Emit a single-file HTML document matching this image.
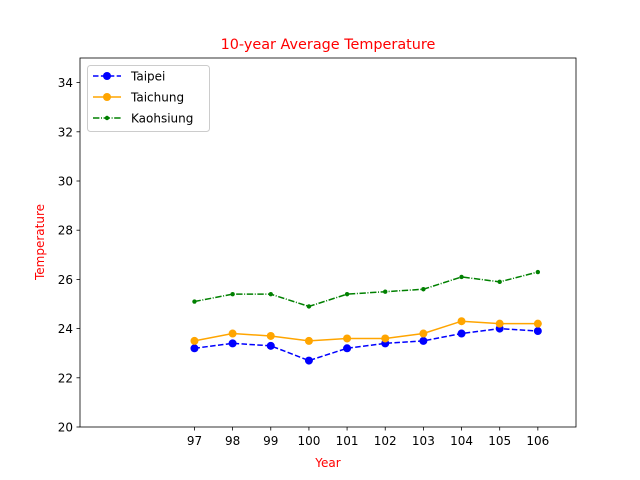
<!DOCTYPE html>
<html><head><meta charset="utf-8"><style>
body{margin:0;background:#fff;}
svg{display:block;font-family:"DejaVu Sans","Liberation Sans",sans-serif;}
</style></head><body>
<svg id="chart" width="640" height="480">
<rect x="0" y="0" width="640" height="480" fill="#fff"/>
<text x="328" y="49" text-anchor="middle" font-size="14.4" fill="red">10-year Average Temperature</text>
<text x="328" y="467" text-anchor="middle" font-size="12" fill="red">Year</text>
<text transform="translate(44,242) rotate(-90)" text-anchor="middle" font-size="12" fill="red">Temperature</text>
<g id="plot"></g>
</svg>
<script>
const years = [97,98,99,100,101,102,103,104,105,106];
const taipei = [23.2,23.4,23.3,22.7,23.2,23.4,23.5,23.8,24.0,23.9];
const taichung = [23.5,23.8,23.7,23.5,23.6,23.6,23.8,24.3,24.2,24.2];
const kaohsiung = [25.1,25.4,25.4,24.9,25.4,25.5,25.6,26.1,25.9,26.3];
const yTicks = [20,22,24,26,28,30,32,34];
const seriesNames = ["Taipei","Taichung","Kaohsiung"];

const L=80,R=576,T=58,B=427;
const xMin=94,xMax=107,yMin=20,yMax=35;
const sx=v=>L+(v-xMin)/(xMax-xMin)*(R-L);
const sy=v=>B-(v-yMin)/(yMax-yMin)*(B-T);
const NS="http://www.w3.org/2000/svg";
const g=document.getElementById('plot');
function mk(tag,attrs,parent){const e=document.createElementNS(NS,tag);for(const k in attrs)e.setAttribute(k,attrs[k]);(parent||g).appendChild(e);return e;}

yTicks.forEach(t=>{
  const y=sy(t);
  const tk=mk('line',{x1:L-3.5,x2:L,y1:y,y2:y,stroke:'#000','stroke-width':0.8});
  
  
  const tx=mk('text',{x:L-7,y:y+4.5,'text-anchor':'end','font-size':12});
  tx.textContent=t;
  
  
});
years.forEach(t=>{
  const x=sx(t);
  const tk=mk('line',{x1:x,x2:x,y1:B,y2:B+3.5,stroke:'#000','stroke-width':0.8});
  
  
  const tx=mk('text',{x:x,y:B+18,'text-anchor':'middle','font-size':12});
  tx.textContent=t;
  
  
});

const styles=[
  {data:taipei,color:'blue',dash:'5.5,2.4',r:4},
  {data:taichung,color:'orange',dash:'',r:4},
  {data:kaohsiung,color:'green',dash:'6.4,1.6,1,1.6',r:2.2}
];
styles.forEach((s,i)=>{
  const pts=s.data.map((v,j)=>sx(years[j])+','+sy(v)).join(' ');
  const pl=mk('polyline',{points:pts,fill:'none',stroke:s.color,'stroke-width':1.5,'stroke-dasharray':s.dash});
  
  
  s.data.forEach((v,j)=>{
    const c=mk('circle',{cx:sx(years[j]),cy:sy(v),r:s.r,fill:s.color});
    
    
  });
});

const frame=mk('rect',{x:L,y:T,width:R-L,height:B-T,fill:'none',stroke:'#000','stroke-width':0.8});



const lg=mk('g',{});


mk('rect',{x:87.5,y:65.5,width:122,height:66,rx:3,fill:'#fff',stroke:'#ccc','stroke-width':1},lg);
styles.forEach((s,i)=>{
  const y=76+i*21;
  const e=mk('g',{},lg);
  
  
  mk('line',{x1:93,x2:121,y1:y,y2:y,stroke:s.color,'stroke-width':1.5,'stroke-dasharray':s.dash},e);
  mk('circle',{cx:107,cy:y,r:s.r,fill:s.color},e);
  const t=mk('text',{x:131,y:y+4.5,'font-size':12},e);
  t.textContent=seriesNames[i];
});
</script>
</body></html>
